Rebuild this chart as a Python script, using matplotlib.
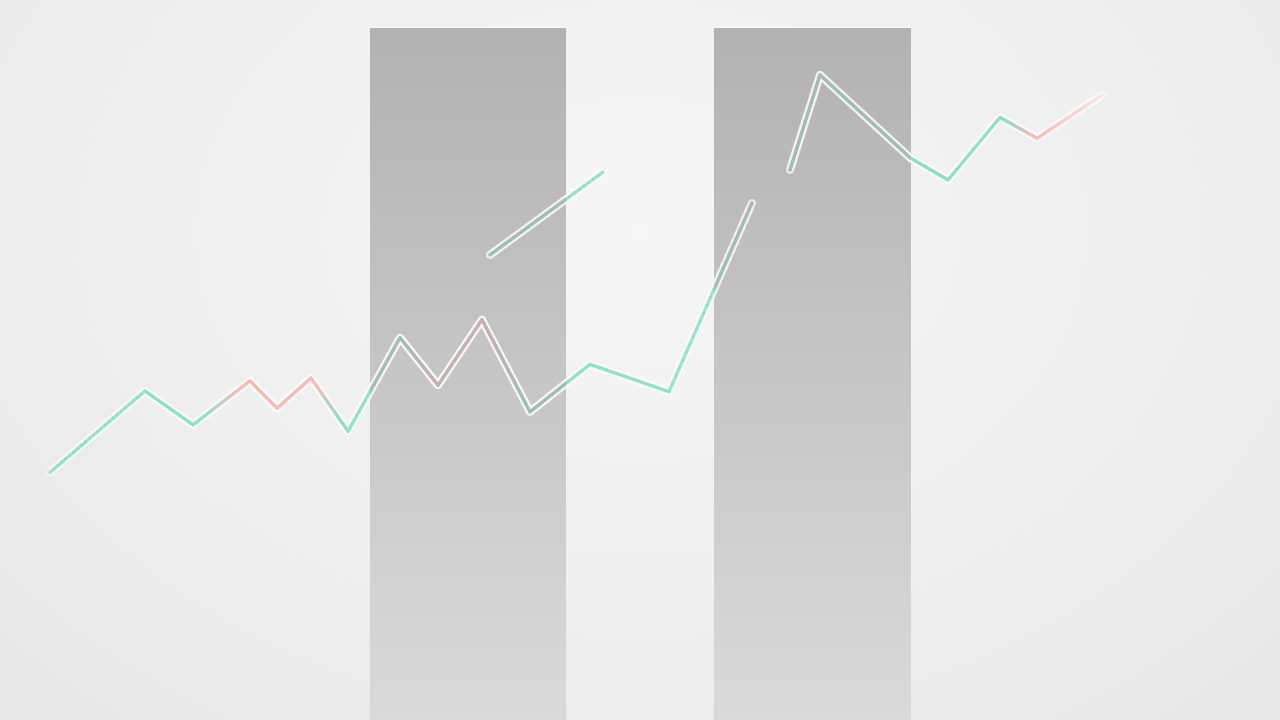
import numpy as np
import matplotlib
matplotlib.use("Agg")
import matplotlib.pyplot as plt
from matplotlib.collections import LineCollection
from matplotlib.colors import to_rgba
from matplotlib.patches import Rectangle

# ---- data ----
main_x = [5.0, 14.5, 19.3, 25.0, 27.7, 31.1, 34.8, 40.0, 43.8, 48.2, 53.0, 59.0, 66.9, 75.2]
main_y = [34.4, 45.7, 41.0, 47.1, 43.3, 47.5, 40.1, 53.1, 46.5, 55.6, 42.8, 49.4, 45.6, 71.8]
main_tone = ["g", "g", "g", "r", "r", "r", "g", "g", "r", "r", "g", "g", "g", "g"]

frag_x = [49.0, 60.3]
frag_y = [64.6, 76.1]
frag_tone = ["g", "g"]

tail_x = [79.0, 82.0, 91.0, 94.8, 100.0, 103.7, 110.2]
tail_y = [76.4, 89.6, 78.1, 75.0, 83.7, 80.8, 86.8]
tail_tone = ["g", "g", "g", "g", "g", "r", "r"]

band_start = [37.0, 71.4]
band_end = [56.6, 91.1]
band_top = 96.1

XMAX, YMAX = 128.0, 100.0

fig = plt.figure(figsize=(12.8, 7.2), dpi=100)
ax = fig.add_axes([0, 0, 1, 1])
ax.set_xlim(0, XMAX)
ax.set_ylim(0, YMAX)
ax.axis("off")

# background radial gradient
H, W = 360, 640
yy, xx = np.mgrid[0:H, 0:W]
cx, cy = W * 0.5, H * 0.32
r = np.sqrt(((xx - cx) / W) ** 2 + ((yy - cy) / H) ** 2 * 0.6)
val = 0.965 - 0.060 * np.clip(r / 0.75, 0, 1) ** 1.2
bg = np.dstack([val, val, val])
ax.imshow(bg, extent=[0, XMAX, 0, YMAX], origin="upper", aspect="auto", zorder=0)

# bands with vertical gradient
grad = np.linspace(0.70, 0.855, 256)[:, None]
band_img = np.dstack([grad, grad, grad])
clip_rects = []
for x0, x1 in zip(band_start, band_end):
    ax.imshow(band_img, extent=[x0, x1, 0, band_top], origin="upper",
              aspect="auto", zorder=1)
    ax.plot([x0, x1], [band_top + 0.15, band_top + 0.15], color="white", lw=1.2,
            alpha=0.5, zorder=1.5)
    clip_rects.append((x0, x1))

GREEN = np.array(to_rgba("#8adfc6"))
RED = np.array(to_rgba("#f5bab3"))
tone_col = {"g": GREEN, "r": RED}


def draw_piece(xs, ys, tones, fade_end=False):
    xs = np.asarray(xs, float)
    ys = np.asarray(ys, float)
    segs, cols = [], []
    n = 24
    for i in range(len(xs) - 1):
        c0, c1 = tone_col[tones[i]], tone_col[tones[i + 1]]
        for k in range(n):
            t0, t1 = k / n, (k + 1) / n
            segs.append([(xs[i] + (xs[i + 1] - xs[i]) * t0, ys[i] + (ys[i + 1] - ys[i]) * t0),
                         (xs[i] + (xs[i + 1] - xs[i]) * t1, ys[i] + (ys[i + 1] - ys[i]) * t1)])
            tm = (t0 + t1) / 2
            tt = np.clip((tm - 0.2) / 0.6, 0, 1)
            c = (c0 * (1 - tt) + c1 * tt).copy()
            c[3] = 0.8
            if fade_end and i == len(xs) - 2:
                c[:3] = c[:3] * (1 - tm * 0.6) + np.ones(3) * tm * 0.6
            cols.append(c)
    halo = LineCollection(segs, colors=[(1, 1, 1, 0.4)], linewidths=6.0,
                          capstyle="round", joinstyle="round", zorder=2)
    ax.add_collection(halo)
    lc = LineCollection(segs, colors=cols, linewidths=2.4, capstyle="round",
                        joinstyle="round", zorder=3)
    ax.add_collection(lc)
    for x0, x1 in clip_rects:
        rect = Rectangle((x0, 0), x1 - x0, band_top, transform=ax.transData)
        l1, = ax.plot(xs, ys, color="white", lw=5.5, alpha=0.55,
                      solid_capstyle="round", solid_joinstyle="round", zorder=4)
        l2, = ax.plot(xs, ys, color="#999999", lw=2.4, alpha=0.7,
                      solid_capstyle="round", solid_joinstyle="round", zorder=5)
        l3 = LineCollection(segs, colors=cols, linewidths=1.2, alpha=0.35,
                            zorder=6)
        ax.add_collection(l3)
        l1.set_clip_path(rect)
        l2.set_clip_path(rect)
        l3.set_clip_path(rect)


draw_piece(main_x, main_y, main_tone)
draw_piece(frag_x, frag_y, frag_tone)
draw_piece(tail_x, tail_y, tail_tone, fade_end=True)

fig.savefig("out.png", dpi=100)
